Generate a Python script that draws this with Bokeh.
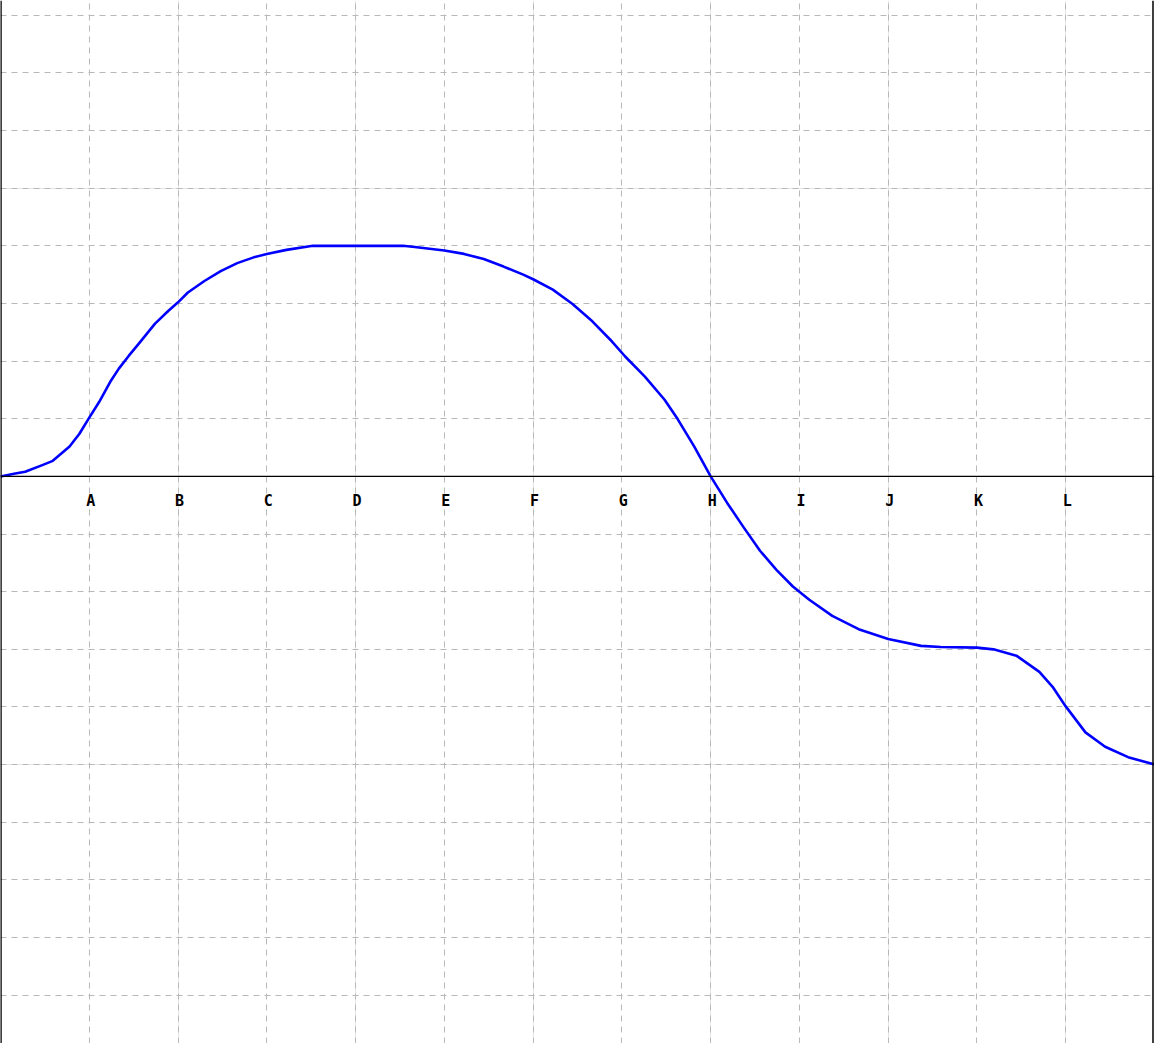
from bokeh.plotting import figure
from bokeh.models import Range1d, Grid, FixedTicker, Span, ColumnDataSource
from bokeh.core.properties import value
from bokeh.embed import file_html
from bokeh.resources import INLINE

# ---- data (x in letter units, A=1 ... L=12; y in grid units) ----
curve_x = [0.0, 0.167, 0.278, 0.478, 0.589, 0.778, 0.889, 1.0, 1.111, 1.244,
           1.333, 1.444, 1.556, 1.741, 1.889, 2.0, 2.111, 2.297, 2.481, 2.667,
           2.852, 3.0, 3.222, 3.519, 4.0, 4.533, 4.667, 5.0, 5.222, 5.444,
           5.667, 5.889, 6.0, 6.222, 6.444, 6.667, 6.889, 7.037, 7.259, 7.481,
           7.630, 7.814, 8.0, 8.186, 8.370, 8.556, 8.741, 8.926, 9.111, 9.370,
           9.667, 10.0, 10.370, 10.592, 11.0, 11.186, 11.444, 11.703, 11.852, 12.0,
           12.222, 12.444, 12.703, 12.981, 13.0]
curve_y = [0.00, 0.05, 0.08, 0.20, 0.27, 0.52, 0.74, 1.02, 1.29, 1.66,
           1.87, 2.09, 2.30, 2.65, 2.87, 3.02, 3.19, 3.39, 3.56, 3.70,
           3.80, 3.86, 3.93, 4.00, 4.00, 4.00, 3.98, 3.92, 3.86, 3.77,
           3.64, 3.50, 3.42, 3.24, 2.99, 2.69, 2.34, 2.08, 1.73, 1.33,
           0.99, 0.52, 0.00, -0.46, -0.88, -1.29, -1.62, -1.91, -2.14, -2.42,
           -2.65, -2.82, -2.94, -2.96, -2.97, -3.00, -3.11, -3.39, -3.65, -3.99,
           -4.44, -4.69, -4.87, -4.99, -4.99]

tick_labels = ["A", "B", "C", "D", "E", "F", "G", "H", "I", "J", "K", "L"]
tick_pos = [1, 2, 3, 4, 5, 6, 7, 8, 9, 10, 11, 12]
y_grid_vals = [-9, -8, -7, -6, -5, -4, -3, -2, -1, 1, 2, 3, 4, 5, 6, 7, 8]

# ---- layout ----
W, H = 1154, 1043
X_MIN, X_MAX = 0.0, 13.0
Y_MIN, Y_MAX = -9.838, 8.256

p = figure(width=W, height=H,
           x_range=Range1d(X_MIN, X_MAX),
           y_range=Range1d(Y_MIN, Y_MAX),
           x_axis_location=None, y_axis_location=None,
           toolbar_location=None, output_backend="svg",
           min_border=0, outline_line_color=None,
           background_fill_color="white", border_fill_color="white")

xg = Grid(dimension=0, ticker=FixedTicker(ticks=tick_pos),
          grid_line_color="#b8b8b8", grid_line_width=1, grid_line_dash="6 5")
yg = Grid(dimension=1, ticker=FixedTicker(ticks=y_grid_vals),
          grid_line_color="#b8b8b8", grid_line_width=1, grid_line_dash="6 5")
p.add_layout(xg)
p.add_layout(yg)

# zero axis line and left/right borders
p.add_layout(Span(location=0, dimension="width", line_color="black", line_width=1.2))
p.add_layout(Span(location=X_MIN, dimension="height", line_color="black", line_width=2.5))
p.add_layout(Span(location=12.983, dimension="height", line_color="black", line_width=1.5))

# letter labels under the zero line
lab_src = ColumnDataSource(dict(x=tick_pos, y=[0] * len(tick_pos), t=tick_labels))
p.text(x="x", y="y", text="t", source=lab_src,
       text_font=value("DejaVu Sans Mono"), text_font_style="bold",
       text_font_size="15px", text_color="black",
       text_align="center", text_baseline="middle",
       x_offset=1.5, y_offset=24.5)

# curve
p.line(curve_x, curve_y, line_color="#0000ff", line_width=2.6, line_join="round")

open("out.html", "w").write(file_html(p, INLINE))
